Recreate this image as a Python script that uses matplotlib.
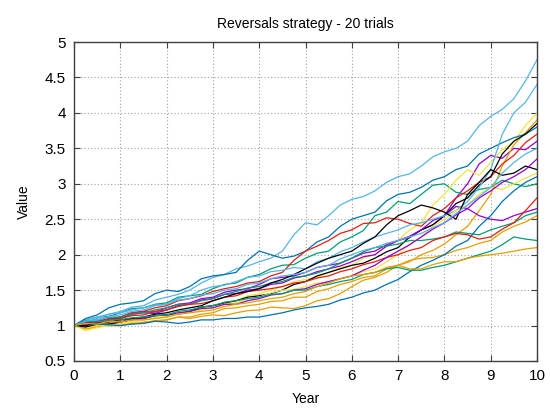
import numpy as np
import matplotlib
matplotlib.use("Agg")
import matplotlib.pyplot as plt

plt.rcParams['font.family'] = ['Liberation Sans', 'DejaVu Sans']

#%%
# quarter-year samples
years = np.arange(0, 10.01, 0.25)

colors = ['#9400d3', '#009e73', '#56b4e9', '#e69f00',
          '#f0e442', '#0072b2', '#e51e10', '#000000']

trials = {
    'purpleA': [1.00,1.06,1.08,1.07,1.12,1.18,1.20,1.19,1.25,1.30,1.32,1.38,1.40,1.47,1.50,1.52,1.58,1.66,1.68,1.70,1.75,1.82,1.85,1.88,1.95,2.02,2.05,2.14,2.20,2.24,2.35,2.42,2.55,2.80,3.00,3.28,3.40,3.36,3.50,3.48,3.60],
    'greenA':  [1.00,1.08,1.12,1.13,1.18,1.24,1.25,1.30,1.32,1.40,1.42,1.44,1.52,1.58,1.60,1.68,1.72,1.80,1.85,1.86,1.95,2.02,2.05,2.18,2.25,2.34,2.55,2.60,2.75,2.72,2.85,2.98,3.00,2.88,2.85,2.92,2.95,3.05,3.00,2.96,3.00],
    'lblueA':  [1.00,1.08,1.12,1.16,1.20,1.26,1.28,1.36,1.40,1.44,1.50,1.60,1.68,1.72,1.80,1.84,1.90,1.95,2.05,2.28,2.45,2.42,2.55,2.70,2.78,2.82,2.90,3.02,3.10,3.14,3.25,3.38,3.45,3.50,3.60,3.82,3.95,4.05,4.20,4.45,4.75],
    'orangeA': [1.00,0.98,1.00,1.03,1.02,1.02,1.05,1.06,1.08,1.12,1.10,1.13,1.15,1.14,1.18,1.21,1.22,1.26,1.25,1.24,1.28,1.35,1.38,1.45,1.55,1.64,1.68,1.75,1.85,1.90,2.00,2.06,2.15,2.28,2.40,2.62,2.85,3.25,3.55,3.72,3.90],
    'yellowA': [1.00,0.96,1.00,1.04,1.05,1.04,1.08,1.12,1.12,1.17,1.20,1.26,1.28,1.30,1.35,1.42,1.45,1.50,1.55,1.62,1.65,1.68,1.75,1.82,1.85,1.95,2.00,2.12,2.20,2.35,2.45,2.70,2.85,3.05,3.20,3.12,3.30,3.48,3.60,3.82,4.00],
    'blueA':   [1.00,1.10,1.15,1.25,1.30,1.32,1.35,1.45,1.50,1.48,1.55,1.66,1.70,1.72,1.75,1.92,2.05,2.00,1.95,1.98,2.05,2.18,2.25,2.40,2.50,2.55,2.60,2.76,2.85,2.88,2.95,3.05,3.10,3.20,3.25,3.42,3.50,3.58,3.65,3.70,3.80],
    'redA':    [1.00,1.04,1.05,1.10,1.12,1.18,1.20,1.25,1.28,1.35,1.38,1.42,1.48,1.52,1.55,1.60,1.62,1.70,1.75,1.92,2.05,2.12,2.20,2.30,2.35,2.44,2.45,2.52,2.50,2.44,2.40,2.55,2.65,2.80,2.90,3.02,3.10,3.28,3.40,3.58,3.70],
    'blackA':  [1.00,0.98,1.02,1.02,1.05,1.09,1.10,1.14,1.15,1.16,1.20,1.26,1.28,1.32,1.35,1.40,1.42,1.45,1.50,1.58,1.62,1.70,1.75,1.80,1.85,1.88,1.95,2.04,2.10,2.25,2.35,2.42,2.55,2.72,2.80,2.98,3.10,3.42,3.60,3.70,3.85],
    'purpleB': [1.00,1.06,1.05,1.09,1.10,1.16,1.18,1.17,1.22,1.28,1.30,1.36,1.38,1.44,1.45,1.50,1.52,1.58,1.60,1.67,1.70,1.76,1.80,1.84,1.90,1.97,2.00,2.12,2.20,2.26,2.35,2.48,2.55,2.68,2.65,2.55,2.50,2.48,2.55,2.60,2.65],
    'greenB':  [1.00,1.06,1.08,1.12,1.12,1.16,1.18,1.22,1.25,1.30,1.30,1.35,1.38,1.44,1.48,1.53,1.55,1.60,1.62,1.68,1.70,1.74,1.80,1.88,1.95,2.04,2.10,2.12,2.15,2.20,2.20,2.22,2.25,2.32,2.30,2.28,2.35,2.40,2.45,2.55,2.60],
    'lblueB':  [1.00,1.05,1.08,1.13,1.15,1.20,1.22,1.28,1.30,1.38,1.42,1.50,1.55,1.57,1.62,1.68,1.70,1.76,1.78,1.82,1.80,1.90,1.95,2.04,2.10,2.18,2.25,2.30,2.35,2.42,2.45,2.50,2.55,2.62,2.75,2.95,3.20,3.70,4.00,4.15,4.40],
    'orangeB': [1.00,0.95,0.98,1.00,1.00,1.03,1.04,1.07,1.08,1.12,1.12,1.16,1.18,1.24,1.25,1.28,1.30,1.34,1.35,1.40,1.40,1.48,1.52,1.58,1.62,1.68,1.70,1.80,1.85,1.92,1.95,1.96,2.00,2.06,2.10,2.16,2.20,2.32,2.40,2.46,2.55],
    'yellowB': [1.00,0.93,0.97,1.00,1.02,1.06,1.08,1.10,1.12,1.17,1.18,1.22,1.25,1.30,1.32,1.38,1.40,1.46,1.50,1.51,1.55,1.60,1.62,1.66,1.70,1.76,1.80,1.90,2.00,2.15,2.25,2.40,2.50,2.62,2.70,2.85,2.95,2.92,3.00,3.08,3.15],
    'blueB':   [1.00,1.00,1.02,1.01,1.00,1.02,1.03,1.06,1.05,1.03,1.05,1.08,1.08,1.10,1.10,1.12,1.12,1.15,1.18,1.22,1.25,1.27,1.30,1.36,1.40,1.46,1.50,1.58,1.65,1.76,1.85,1.92,2.00,2.12,2.20,2.40,2.55,2.75,2.90,3.02,3.10],
    'redB':    [1.00,1.02,1.05,1.08,1.10,1.14,1.15,1.20,1.22,1.27,1.30,1.31,1.35,1.40,1.42,1.48,1.50,1.52,1.55,1.60,1.62,1.67,1.70,1.76,1.80,1.86,1.90,1.96,2.00,2.06,2.10,2.20,2.25,2.30,2.28,2.22,2.25,2.36,2.45,2.62,2.80],
    'blackB':  [1.00,1.00,1.04,1.05,1.08,1.10,1.12,1.16,1.18,1.22,1.25,1.28,1.35,1.40,1.45,1.48,1.52,1.60,1.65,1.72,1.80,1.88,1.95,2.00,2.05,2.16,2.25,2.42,2.55,2.62,2.70,2.66,2.60,2.50,2.85,3.02,3.20,3.12,3.15,3.25,3.20],
    'purpleC': [1.00,1.04,1.03,1.06,1.05,1.08,1.10,1.14,1.15,1.18,1.20,1.24,1.25,1.30,1.30,1.35,1.38,1.43,1.45,1.50,1.52,1.58,1.62,1.66,1.70,1.78,1.85,1.96,2.05,2.14,2.25,2.36,2.45,2.56,2.65,2.80,2.90,3.02,3.10,3.20,3.35],
    'greenC':  [1.00,1.06,1.05,1.08,1.08,1.11,1.12,1.14,1.15,1.20,1.22,1.26,1.28,1.33,1.35,1.38,1.40,1.44,1.45,1.50,1.50,1.55,1.58,1.62,1.65,1.72,1.75,1.80,1.82,1.78,1.78,1.82,1.85,1.90,1.95,2.00,2.05,2.14,2.25,2.22,2.20],
    'lblueC':  [1.00,1.06,1.10,1.16,1.18,1.22,1.25,1.29,1.30,1.36,1.38,1.43,1.45,1.50,1.52,1.58,1.60,1.66,1.70,1.72,1.75,1.82,1.85,1.94,2.00,2.06,2.10,2.16,2.20,2.25,2.30,2.38,2.45,2.58,2.70,2.82,2.95,3.15,3.30,3.42,3.50],
    'orangeC': [1.00,1.03,1.02,1.06,1.05,1.08,1.08,1.10,1.12,1.16,1.18,1.20,1.22,1.27,1.30,1.32,1.35,1.38,1.40,1.45,1.48,1.55,1.60,1.66,1.70,1.72,1.75,1.82,1.85,1.80,1.80,1.86,1.90,1.90,1.95,1.98,2.00,2.02,2.05,2.08,2.10],
}

xticks = np.arange(0, 11, 1)
yticks = np.arange(0.5, 5.01, 0.5)
ytick_labels = ['0.5', '1', '1.5', '2', '2.5', '3', '3.5', '4', '4.5', '5']

#%%
fig = plt.figure(figsize=(5.5, 4.12), dpi=100)
ax = fig.add_axes([74/550, 51/412, 463/550, 319/412])

for i, (name, vals) in enumerate(trials.items()):
    ax.plot(years, vals, color=colors[i % len(colors)], lw=0.9)

ax.set_xlim(0, 10)
ax.set_ylim(0.5, 5)
ax.set_xticks(xticks)
ax.set_yticks(yticks)
ax.set_yticklabels(ytick_labels)
ax.grid(True, color='#a0a0a0', linestyle=(0, (1, 2)), lw=0.8)
ax.tick_params(direction='in', length=4, width=0.8, top=True, right=True,
               labelsize=11, color='#404040', pad=6)
for s in ax.spines.values():
    s.set_color('#404040')
    s.set_linewidth(1.0)

ax.set_title('Reversals strategy - 20 trials', fontsize=10, pad=10)
ax.set_xlabel('Year', fontsize=10, labelpad=6)
ax.set_ylabel('Value', fontsize=10, labelpad=10)

fig.savefig('out.png', dpi=100)
